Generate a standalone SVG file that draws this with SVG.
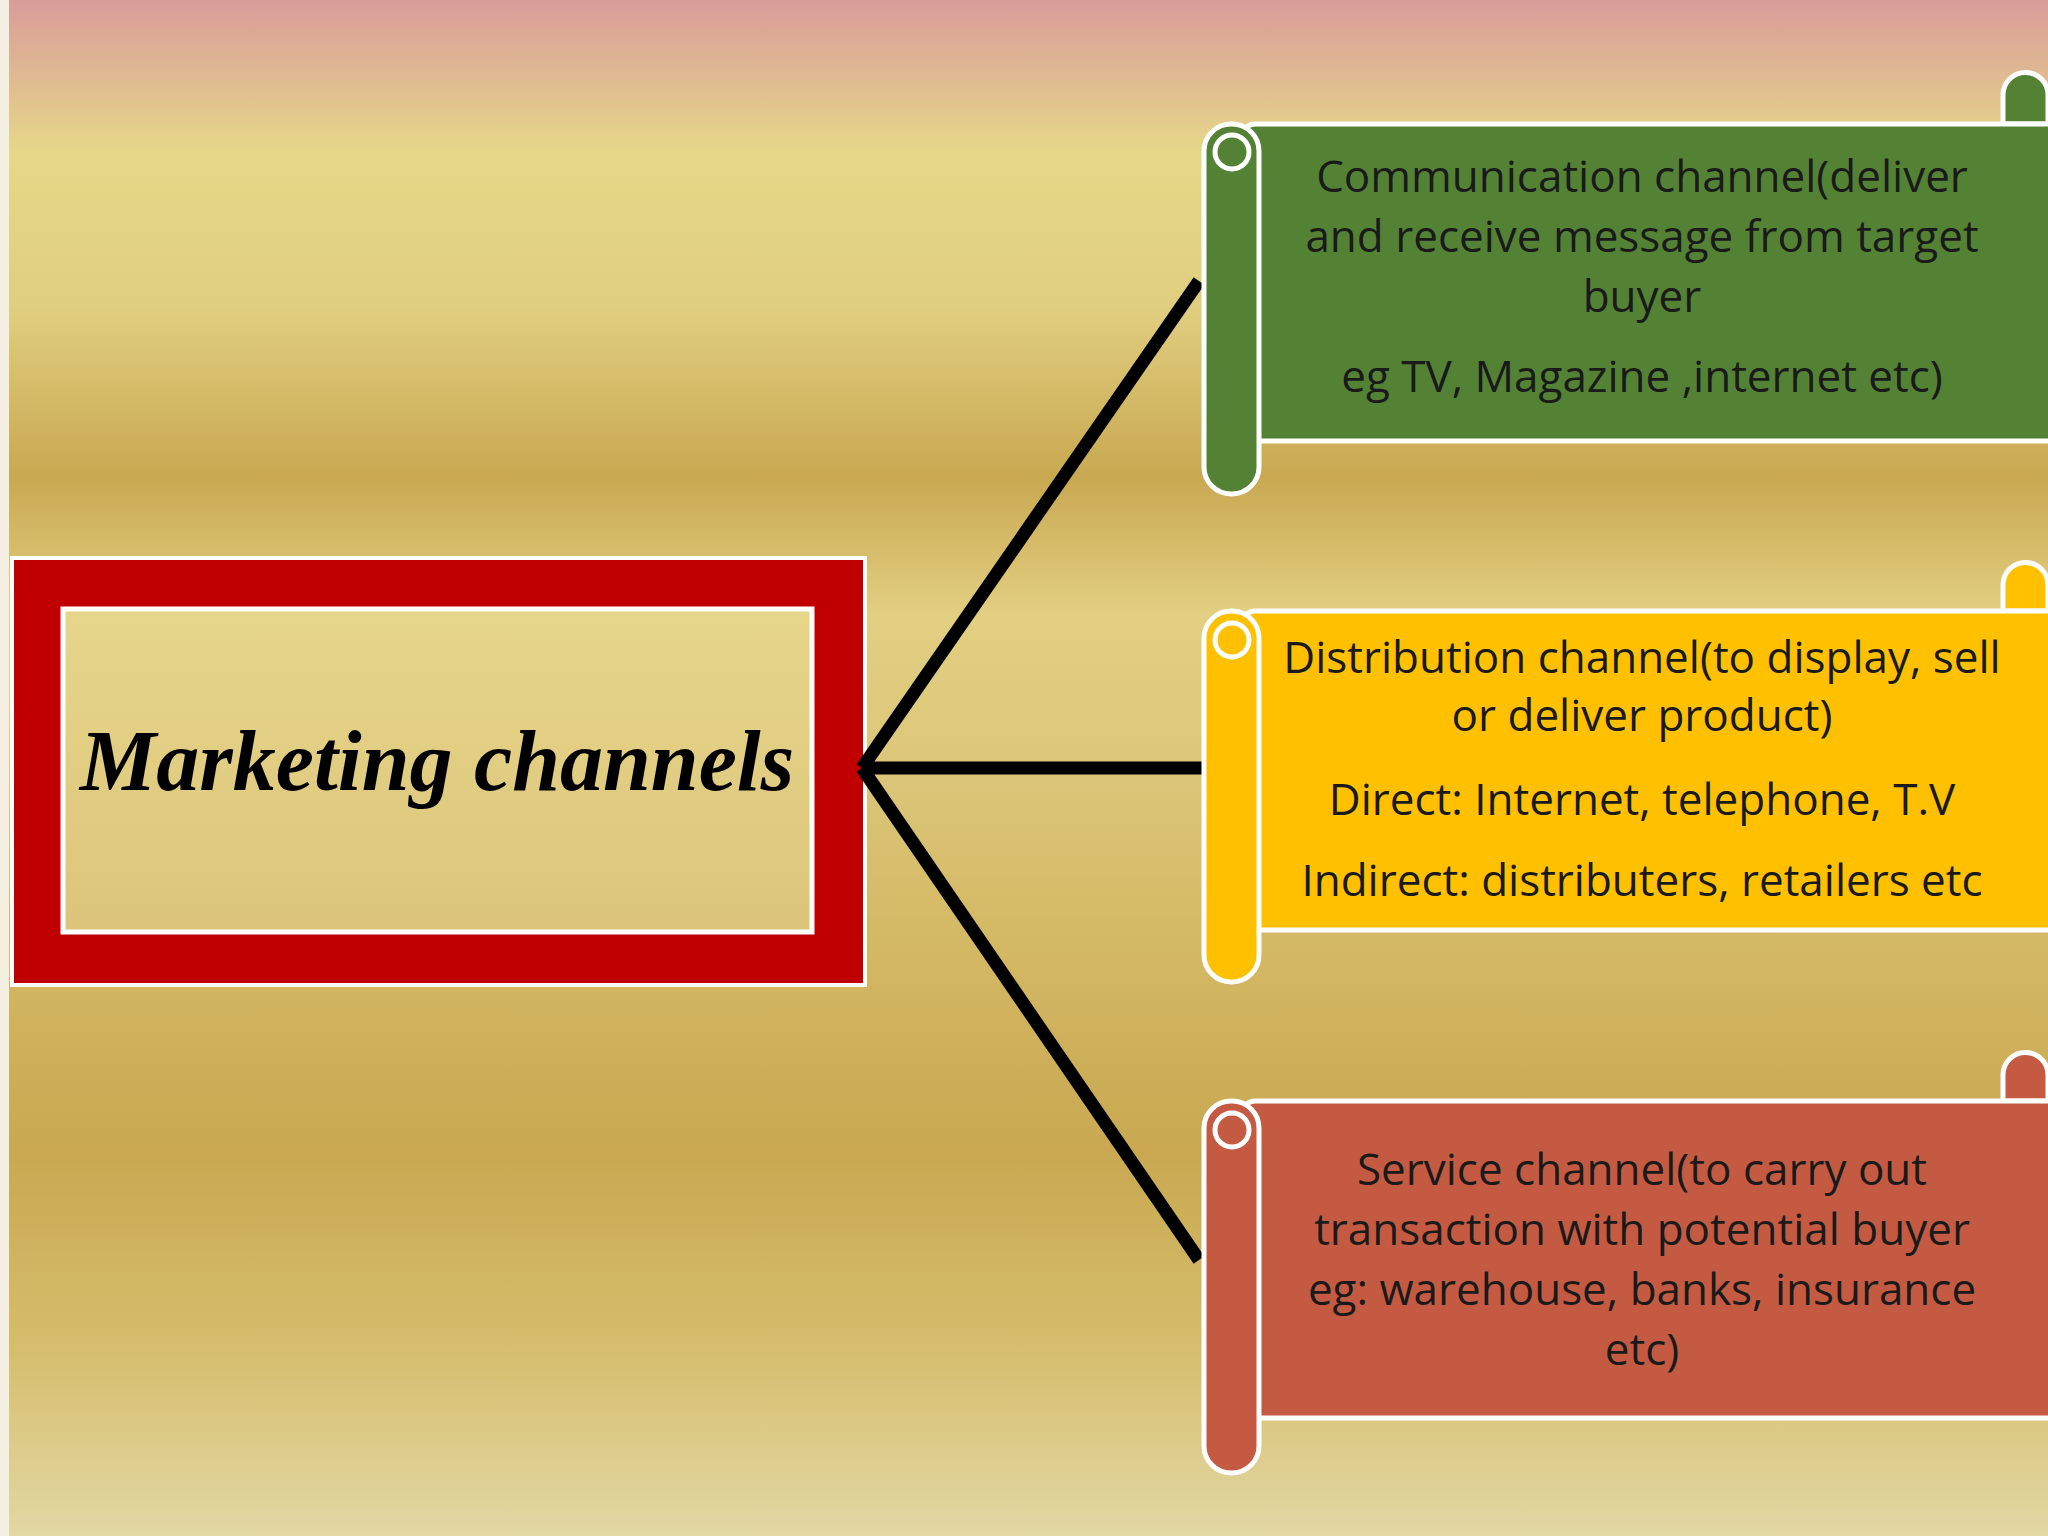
<svg xmlns="http://www.w3.org/2000/svg" width="2048" height="1536" viewBox="0 0 2048 1536">
<defs>
<linearGradient id="bg" x1="0" y1="0" x2="0" y2="1">
<stop offset="0" stop-color="#D99C9A"/>
<stop offset="0.1" stop-color="#E6D888"/>
<stop offset="0.2" stop-color="#E0CE80"/>
<stop offset="0.31" stop-color="#C9A851"/>
<stop offset="0.4" stop-color="#E2CF82"/>
<stop offset="0.5" stop-color="#DCC67A"/>
<stop offset="0.6" stop-color="#D5BA66"/>
<stop offset="0.75" stop-color="#C9A851"/>
<stop offset="0.88" stop-color="#D6BE6E"/>
<stop offset="1" stop-color="#E2D8A4"/>
</linearGradient>
<linearGradient id="inner" x1="0" y1="0" x2="0" y2="1">
<stop offset="0" stop-color="#E6D68A"/>
<stop offset="1" stop-color="#DCC57A"/>
</linearGradient>
</defs>
<style>
.t{font-family:"Open Sans","Liberation Sans",sans-serif;font-size:44px;fill:#1a1a1a;text-anchor:middle}
.w{stroke:#fff;stroke-width:5}
.c{stroke:#000;stroke-width:13;fill:none}
</style>
<rect width="2048" height="1536" fill="url(#bg)"/>
<rect width="9" height="1536" fill="#f4f0e4"/>
<g id="title">
<rect x="12" y="558" width="853" height="427" fill="#C00000" stroke="#fff" stroke-width="4"/>
<rect x="63" y="609" width="749" height="323" fill="url(#inner)" stroke="#fff" stroke-width="5"/>
<text x="437" y="790" font-family="'Liberation Serif',serif" font-style="italic" font-weight="bold" font-size="86" text-anchor="middle" fill="#000">Marketing channels</text>
</g>
<g id="connectors">
<path class="c" d="M862 768 L1199 281 M862 768 L1202 768 M862 768 L1199 1260"/>
</g>
<g id="comm">
<path class="w" fill="#548235" d="M2003 124 V95 a22 22 0 0 1 45 0 V124 Z"/>
<rect class="w" x="1240" y="124" width="830" height="317" rx="16" fill="#548235"/>
<rect class="w" x="1204" y="124" width="55" height="370" rx="27" fill="#548235"/>
<circle class="w" cx="1232" cy="152" r="17" fill="#548235"/>
<text class="t" x="1642" y="192">Communication channel(deliver</text>
<text class="t" x="1642" y="252">and receive message from target</text>
<text class="t" x="1642" y="312">buyer</text>
<text class="t" x="1642" y="392">eg  TV, Magazine ,internet etc)</text>
</g>
<g id="dist">
<path class="w" fill="#FFC000" d="M2003 611 V585 a22 22 0 0 1 45 0 V611 Z"/>
<rect class="w" x="1240" y="611" width="830" height="319" rx="16" fill="#FFC000"/>
<rect class="w" x="1204" y="611" width="55" height="371" rx="27" fill="#FFC000"/>
<circle class="w" cx="1232" cy="640" r="17" fill="#FFC000"/>
<text class="t" x="1642" y="673">Distribution channel(to display, sell</text>
<text class="t" x="1642" y="731">or deliver product)</text>
<text class="t" x="1642" y="815">Direct: Internet, telephone, T.V</text>
<text class="t" x="1642" y="896">Indirect: distributers, retailers etc</text>
</g>
<g id="serv">
<path class="w" fill="#C55A43" d="M2003 1101 V1075 a22 22 0 0 1 45 0 V1101 Z"/>
<rect class="w" x="1240" y="1101" width="830" height="317" rx="16" fill="#C55A43"/>
<rect class="w" x="1204" y="1101" width="55" height="372" rx="27" fill="#C55A43"/>
<circle class="w" cx="1232" cy="1130" r="17" fill="#C55A43"/>
<text class="t" x="1642" y="1185">Service channel(to carry out</text>
<text class="t" x="1642" y="1245">transaction with potential buyer</text>
<text class="t" x="1642" y="1305">eg: warehouse, banks, insurance</text>
<text class="t" x="1642" y="1365">etc)</text>
</g>
</svg>
